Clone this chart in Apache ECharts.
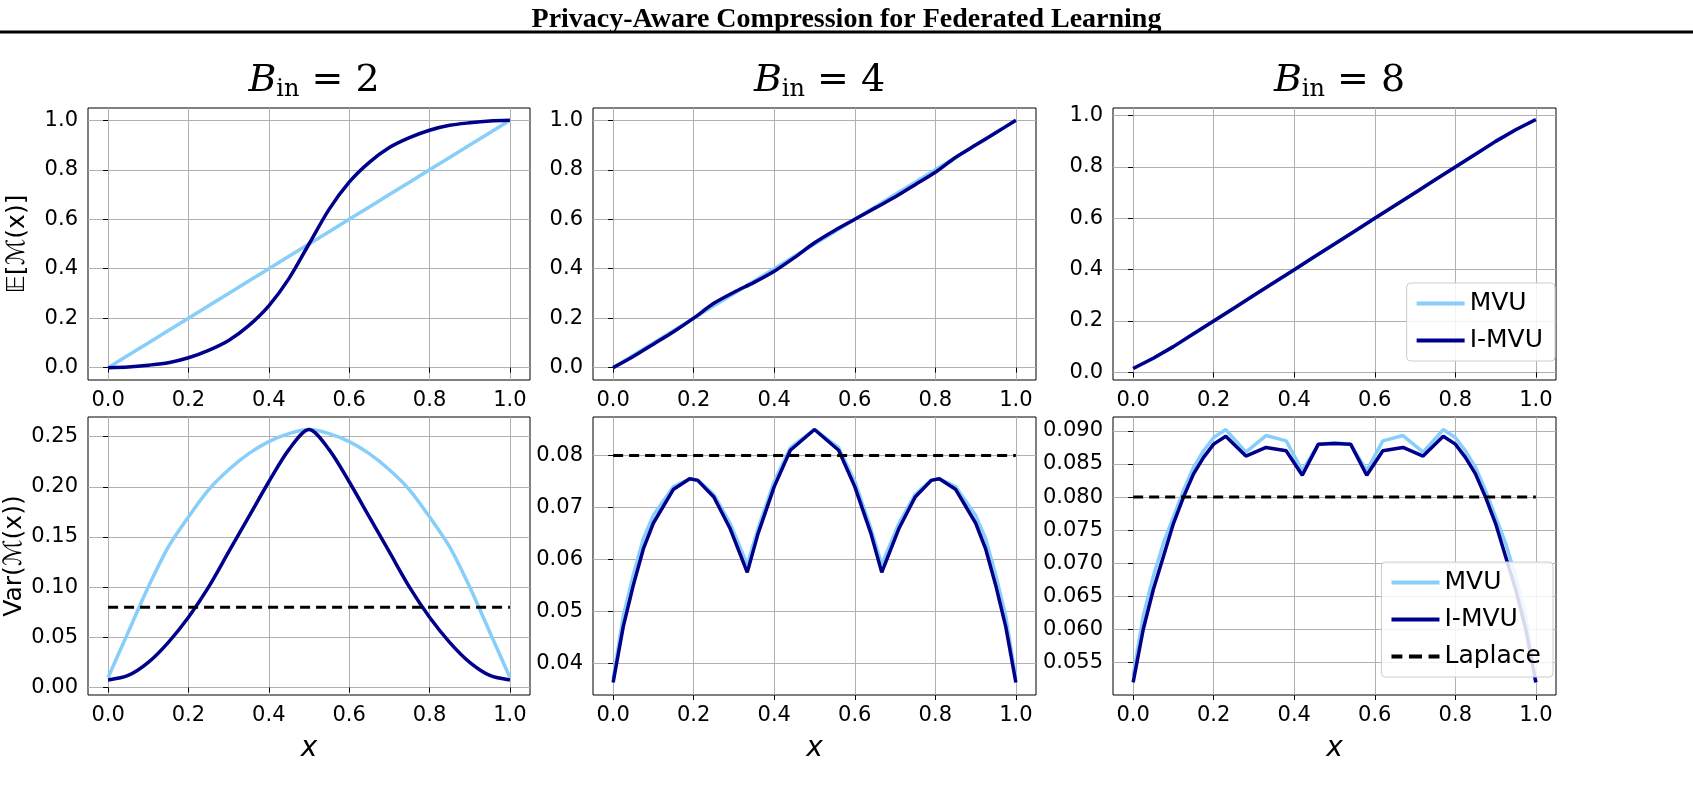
<!DOCTYPE html>
<html><head><meta charset="utf-8">
<script src="https://cdn.jsdelivr.net/npm/echarts@6/dist/echarts.min.js"></script>
<style>html,body{margin:0;padding:0;background:#fff}#c{width:1693px;height:801px}</style>
</head><body><div id="c"></div>
<script>
const chartTitle = 'Privacy-Aware Compression for Federated Learning';
const panelTitles = ['2', '4', '8'];
const seriesNames = ['MVU', 'I-MVU', 'Laplace'];
const laplaceVar = 0.08;

const x21 = [0,.05,.1,.15,.2,.25,.3,.35,.4,.45,.5,.55,.6,.65,.7,.75,.8,.85,.9,.95,1];
const e2_mvu  = [0,.05,.1,.15,.2,.25,.3,.35,.4,.45,.5,.55,.6,.65,.7,.75,.8,.85,.9,.95,1];
const e2_imvu = [0,.003,.01,.02,.04,.07,.11,.17,.25,.36,.5,.64,.75,.83,.89,.93,.96,.98,.99,.997,1];
const e4_mvu  = [0,.05,.1,.15,.2,.25,.3,.35,.4,.45,.5,.55,.6,.65,.7,.75,.8,.85,.9,.95,1];
const e4_imvu = [0,.045,.095,.145,.2,.26,.305,.345,.39,.445,.505,.555,.6,.645,.69,.74,.79,.85,.9,.95,1];
const e8_mvu  = [.015,.055,.1,.15,.2,.25,.3,.35,.4,.45,.5,.55,.6,.65,.7,.75,.8,.85,.9,.945,.985];
const e8_imvu = [.015,.055,.1,.15,.2,.25,.3,.35,.4,.45,.5,.55,.6,.65,.7,.75,.8,.85,.9,.945,.985];
const v2_mvu  = [.01,.055,.1,.14,.17,.197,.217,.233,.245,.253,.257,.253,.245,.233,.217,.197,.17,.14,.1,.055,.01];
const v2_imvu = [.0075,.012,.025,.045,.07,.1,.135,.17,.205,.237,.257,.237,.205,.17,.135,.1,.07,.045,.025,.012,.0075];
const xB4 = [0,.025,.05,.075,.1,.15,.19,.21,.25,.29,.333,.36,.4,.44,.5,.56,.6,.64,.667,.71,.75,.79,.81,.85,.9,.925,.95,.975,1];
const v4_imvu = [.0363,.047,.055,.062,.067,.0735,.0755,.0752,.072,.066,.0575,.065,.074,.081,.085,.081,.074,.065,.0575,.066,.072,.0752,.0755,.0735,.067,.062,.055,.047,.0363];
const v4_mvu  = [.037,.049,.057,.064,.0685,.074,.0755,.0753,.0725,.067,.059,.066,.075,.0815,.085,.0815,.075,.066,.059,.067,.0725,.0753,.0755,.074,.0685,.064,.057,.049,.037];
const xB8 = [0,.025,.05,.075,.1,.125,.15,.175,.2,.23,.28,.33,.38,.42,.46,.5,.54,.58,.62,.67,.72,.77,.8,.825,.85,.875,.9,.925,.95,.975,1];
const v8_imvu = [.052,.060,.066,.071,.076,.080,.0835,.086,.088,.0892,.0862,.0875,.087,.0833,.088,.0881,.088,.0833,.087,.0875,.0862,.0892,.088,.086,.0835,.080,.076,.071,.066,.060,.052];
const v8_mvu  = [.053,.062,.068,.073,.077,.081,.0845,.087,.089,.0902,.0868,.0893,.0885,.084,.088,.0882,.088,.084,.0885,.0893,.0868,.0902,.089,.087,.0845,.081,.077,.073,.068,.062,.052];

const xTicks = [0,.2,.4,.6,.8,1];
const yTicksTop = [0,.2,.4,.6,.8,1];
const yTicksV2 = [0,.05,.1,.15,.2,.25];
const yTicksV4 = [.04,.05,.06,.07,.08];
const yTicksV8 = [.055,.06,.065,.07,.075,.08,.085,.09];

const zip = (xs, ys) => xs.map((x, i) => [x, ys[i]]);
const LIGHT = '#87CEFA', NAVY = '#00008B';
const lefts = [88, 593, 1113], widths = [442, 443, 443];
const grids = [];
for (let r = 0; r < 2; r++) for (let c = 0; c < 3; c++)
  grids.push({left: lefts[c], width: widths[c], top: r ? 417 : 108, height: r ? 278 : 272,
    show: true, borderColor: '#000', borderWidth: 1, backgroundColor: 'transparent'});

const lab = {fontSize: 21, color: '#000', fontFamily: 'DejaVu Sans'};
function xAxis(i, bottom) {
  return {type: 'value', gridIndex: i, min: -0.05, max: 1.05,
    axisLine: {show: false}, axisTick: {show: true, length: 5, lineStyle: {color: '#000'}, customValues: xTicks},
    axisLabel: Object.assign({customValues: xTicks, formatter: v => v.toFixed(1), margin: 10}, lab),
    splitLine: {show: true, lineStyle: {color: '#b0b0b0', width: 1}},
    name: bottom ? 'x' : '', nameLocation: 'middle', nameGap: 40,
    nameTextStyle: {fontSize: 28, fontStyle: 'italic', color: '#000', fontFamily: 'DejaVu Sans'}};
}
function yAxis(i, min, max, ticks, dec, name) {
  return {type: 'value', gridIndex: i, min, max,
    axisLine: {show: false}, axisTick: {show: true, length: 5, lineStyle: {color: '#000'}, customValues: ticks},
    axisLabel: Object.assign({customValues: ticks, formatter: v => v.toFixed(dec), margin: 10}, lab),
    splitLine: {show: true, lineStyle: {color: '#b0b0b0', width: 1}},
    name: name || '', nameLocation: 'middle', nameGap: 58, nameRotate: 90,
    nameTextStyle: {fontSize: 25, color: '#000', fontFamily: 'DejaVu Sans'}};
}
const xAxes = [0,1,2,3,4,5].map(i => xAxis(i, i >= 3));
const yAxes = [
  yAxis(0, -0.05, 1.05, yTicksTop, 1, '𝔼[ℳ(x)]'),
  yAxis(1, -0.05, 1.05, yTicksTop, 1),
  yAxis(2, -0.03, 1.03, yTicksTop, 1),
  yAxis(3, -0.0075, 0.2695, yTicksV2, 2, 'Var(ℳ(x))'),
  yAxis(4, 0.0339, 0.0874, yTicksV4, 2),
  yAxis(5, 0.0501, 0.0921, yTicksV8, 3)
];
function line(name, i, data, color, smooth) {
  return {name, type: 'line', xAxisIndex: i, yAxisIndex: i, data, showSymbol: false, symbol: 'none', smooth: smooth || false,
    lineStyle: {color, width: 3.5}, itemStyle: {color}, z: name === 'MVU' ? 2 : 3, animation: false};
}
function lap(i) {
  return {name: 'Laplace', type: 'line', xAxisIndex: i, yAxisIndex: i, data: [[0, laplaceVar], [1, laplaceVar]],
    showSymbol: false, symbol: 'none', lineStyle: {color: '#000', width: 3, type: [10, 6]}, itemStyle: {color: '#000'}, z: 4, animation: false};
}
const S = 0.3;
const series = [
  line('MVU', 0, zip(x21, e2_mvu), LIGHT), line('I-MVU', 0, zip(x21, e2_imvu), NAVY, S),
  line('MVU', 1, zip(x21, e4_mvu), LIGHT), line('I-MVU', 1, zip(x21, e4_imvu), NAVY, S),
  line('MVU', 2, zip(x21, e8_mvu), LIGHT), line('I-MVU', 2, zip(x21, e8_imvu), NAVY),
  line('MVU', 3, zip(x21, v2_mvu), LIGHT, S), line('I-MVU', 3, zip(x21, v2_imvu), NAVY, S), lap(3),
  line('MVU', 4, zip(xB4, v4_mvu), LIGHT), line('I-MVU', 4, zip(xB4, v4_imvu), NAVY), lap(4),
  line('MVU', 5, zip(xB8, v8_mvu), LIGHT), line('I-MVU', 5, zip(xB8, v8_imvu), NAVY), lap(5)
];
const solidIcon = 'path://M0,6H44V9.5H0Z';
const dashIcon = 'path://M0,6H10V9.5H0ZM16,6H28V9.5H16ZM34,6H44V9.5H34Z';
const legStyle = {orient: 'vertical', itemWidth: 48, itemHeight: 15, itemGap: 12, padding: [8, 12, 8, 10],
  backgroundColor: 'rgba(255,255,255,0.85)', borderColor: '#ccc', borderWidth: 1, borderRadius: 4,
  textStyle: {fontSize: 25, color: '#000', fontFamily: 'DejaVu Sans'}};
const titles = [{text: chartTitle, left: 'center', top: 1,
  textStyle: {fontSize: 28, fontWeight: 'bold', fontFamily: 'Liberation Serif', color: '#000'}}];
panelTitles.forEach((b, c) => titles.push({
  text: '{it|B}{sub|in}{n| = ' + b + '}', left: lefts[c] + widths[c] / 2, textAlign: 'center', top: 55,
  textStyle: {fontWeight: 'normal', rich: {it: {fontSize: 38, fontStyle: 'italic', fontWeight: 'normal', fontFamily: 'DejaVu Serif', color: '#000'},
    sub: {fontSize: 24, fontWeight: 'normal', fontFamily: 'DejaVu Serif', color: '#000', verticalAlign: 'bottom', padding: [18, 0, 0, 0]},
    n: {fontSize: 38, fontWeight: 'normal', fontFamily: 'DejaVu Serif', color: '#000'}}}}));
const chart = echarts.init(document.getElementById('c'));
chart.setOption({
  animation: false, backgroundColor: '#fff',
  title: titles,
  graphic: [{type: 'line', shape: {x1: 0, y1: 32, x2: 1693, y2: 32}, style: {stroke: '#000', lineWidth: 3}}],
  grid: grids, xAxis: xAxes, yAxis: yAxes, series,
  legend: [
    Object.assign({data: [{name: 'MVU', icon: solidIcon}, {name: 'I-MVU', icon: solidIcon}], right: 138, top: 283}, legStyle),
    Object.assign({data: [{name: 'MVU', icon: solidIcon}, {name: 'I-MVU', icon: solidIcon}, {name: 'Laplace', icon: dashIcon}], right: 140, top: 562}, legStyle)
  ]
});
</script></body></html>
